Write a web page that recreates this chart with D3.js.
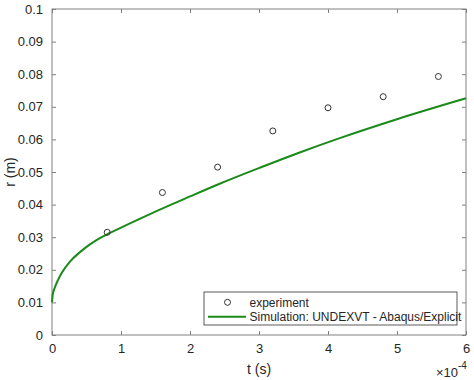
<!DOCTYPE html>
<html><head><meta charset="utf-8">
<script src="https://cdn.jsdelivr.net/npm/d3@7"></script>
<style>body{margin:0;background:#fff;} text{font-family:"Liberation Sans",Arial,sans-serif;fill:#262626;}</style>
</head><body><svg id="c" width="474" height="380"></svg>
<script>
const expT = [0.8, 1.6, 2.4, 3.2, 4.0, 4.8, 5.6];
const expR = [0.0315, 0.0437, 0.0515, 0.0626, 0.0697, 0.0731, 0.0793];
const simT = [0, 0.01, 0.04, 0.09, 0.14, 0.26, 0.41, 0.55, 0.70, 0.84, 1.42, 2.0, 2.43, 3.01, 3.59, 4.17, 5.0, 6.0];
const simR = [0.0100, 0.0123, 0.0145, 0.0170, 0.0190, 0.0225, 0.0255, 0.0278, 0.0298, 0.0313, 0.0371, 0.0425, 0.0464, 0.0513, 0.0560, 0.0604, 0.0662, 0.0726];
const xTicks = [0, 1, 2, 3, 4, 5, 6];
const yTicks = [0, 0.01, 0.02, 0.03, 0.04, 0.05, 0.06, 0.07, 0.08, 0.09, 0.1];
const legendLabels = ["experiment", "Simulation: UNDEXVT - Abaqus/Explicit"];

const L = 52, R = 466, T = 9, B = 335;
const svg = d3.select("#c");
const x = d3.scaleLinear().domain([0, 6]).range([L, R]);
const y = d3.scaleLinear().domain([0, 0.1]).range([B, T]);
const axCol = "#808080", green = "#1a8a1a";

const g = svg.append("g");
g.append("rect").attr("x", L).attr("y", T).attr("width", R - L).attr("height", B - T)
  .attr("fill", "none").attr("stroke", axCol).attr("stroke-width", 1);

function styleAxis(sel) {
  sel.select(".domain").remove();
  sel.selectAll(".tick line").attr("stroke", axCol);
  sel.selectAll(".tick text").attr("font-size", 13).attr("fill", "#262626")
    .style("font-family", "'Liberation Sans',Arial,sans-serif");
}
const fmtY = d => d === 0 ? "0" : (d === 0.1 ? "0.1" : d3.format(".2f")(d));
svg.append("g").attr("transform", `translate(0,${B})`)
  .call(d3.axisBottom(x).tickValues(xTicks).tickFormat(d3.format("d")).tickSizeInner(-4).tickPadding(9))
  .call(styleAxis);
svg.append("g").attr("transform", `translate(0,${T})`)
  .call(d3.axisTop(x).tickValues(xTicks).tickFormat("").tickSizeInner(-4)).call(styleAxis);
svg.append("g").attr("transform", `translate(${L},0)`)
  .call(d3.axisLeft(y).tickValues(yTicks).tickFormat(fmtY).tickSizeInner(-4).tickPadding(9))
  .call(styleAxis);
svg.append("g").attr("transform", `translate(${R},0)`)
  .call(d3.axisRight(y).tickValues(yTicks).tickFormat("").tickSizeInner(-4)).call(styleAxis);

const simData = simT.map((t, i) => [t, simR[i]]);
svg.append("path").datum(simData)
  .attr("d", d3.line().x(d => x(d[0])).y(d => y(d[1])).curve(d3.curveMonotoneX))
  .attr("fill", "none").attr("stroke", green).attr("stroke-width", 2);

svg.selectAll("circle.exp").data(expT.map((t, i) => [t, expR[i]])).enter()
  .append("circle").attr("class", "exp")
  .attr("cx", d => x(d[0])).attr("cy", d => y(d[1])).attr("r", 3)
  .attr("fill", "none").attr("stroke", "#333").attr("stroke-width", 1);

svg.append("text").attr("x", (L + R) / 2).attr("y", 374).attr("text-anchor", "middle")
  .attr("font-size", 14).text("t (s)");
svg.append("text").attr("transform", `translate(15,${(T + B) / 2}) rotate(-90)`)
  .attr("text-anchor", "middle").attr("font-size", 14).text("r (m)");
svg.append("text").attr("x", 458).attr("y", 377).attr("text-anchor", "end").attr("font-size", 13).text("×10");
svg.append("text").attr("x", 458).attr("y", 369).attr("font-size", 10).text("-4");

const lg = svg.append("g");
lg.append("rect").attr("x", 204).attr("y", 292).attr("width", 253).attr("height", 33)
  .attr("fill", "#fff").attr("stroke", "#333").attr("stroke-width", 0.8);
lg.append("circle").attr("cx", 227.5).attr("cy", 302.3).attr("r", 3)
  .attr("fill", "none").attr("stroke", "#333");
lg.append("line").attr("x1", 208).attr("x2", 246).attr("y1", 316.7).attr("y2", 316.7)
  .attr("stroke", green).attr("stroke-width", 2);
lg.selectAll("text.lt").data(legendLabels).enter().append("text").attr("class", "lt")
  .attr("x", 249.5).attr("y", (d, i) => 302.3 + i * 14.4).attr("dy", "0.35em")
  .attr("font-size", 12).text(d => d);
</script></body></html>
